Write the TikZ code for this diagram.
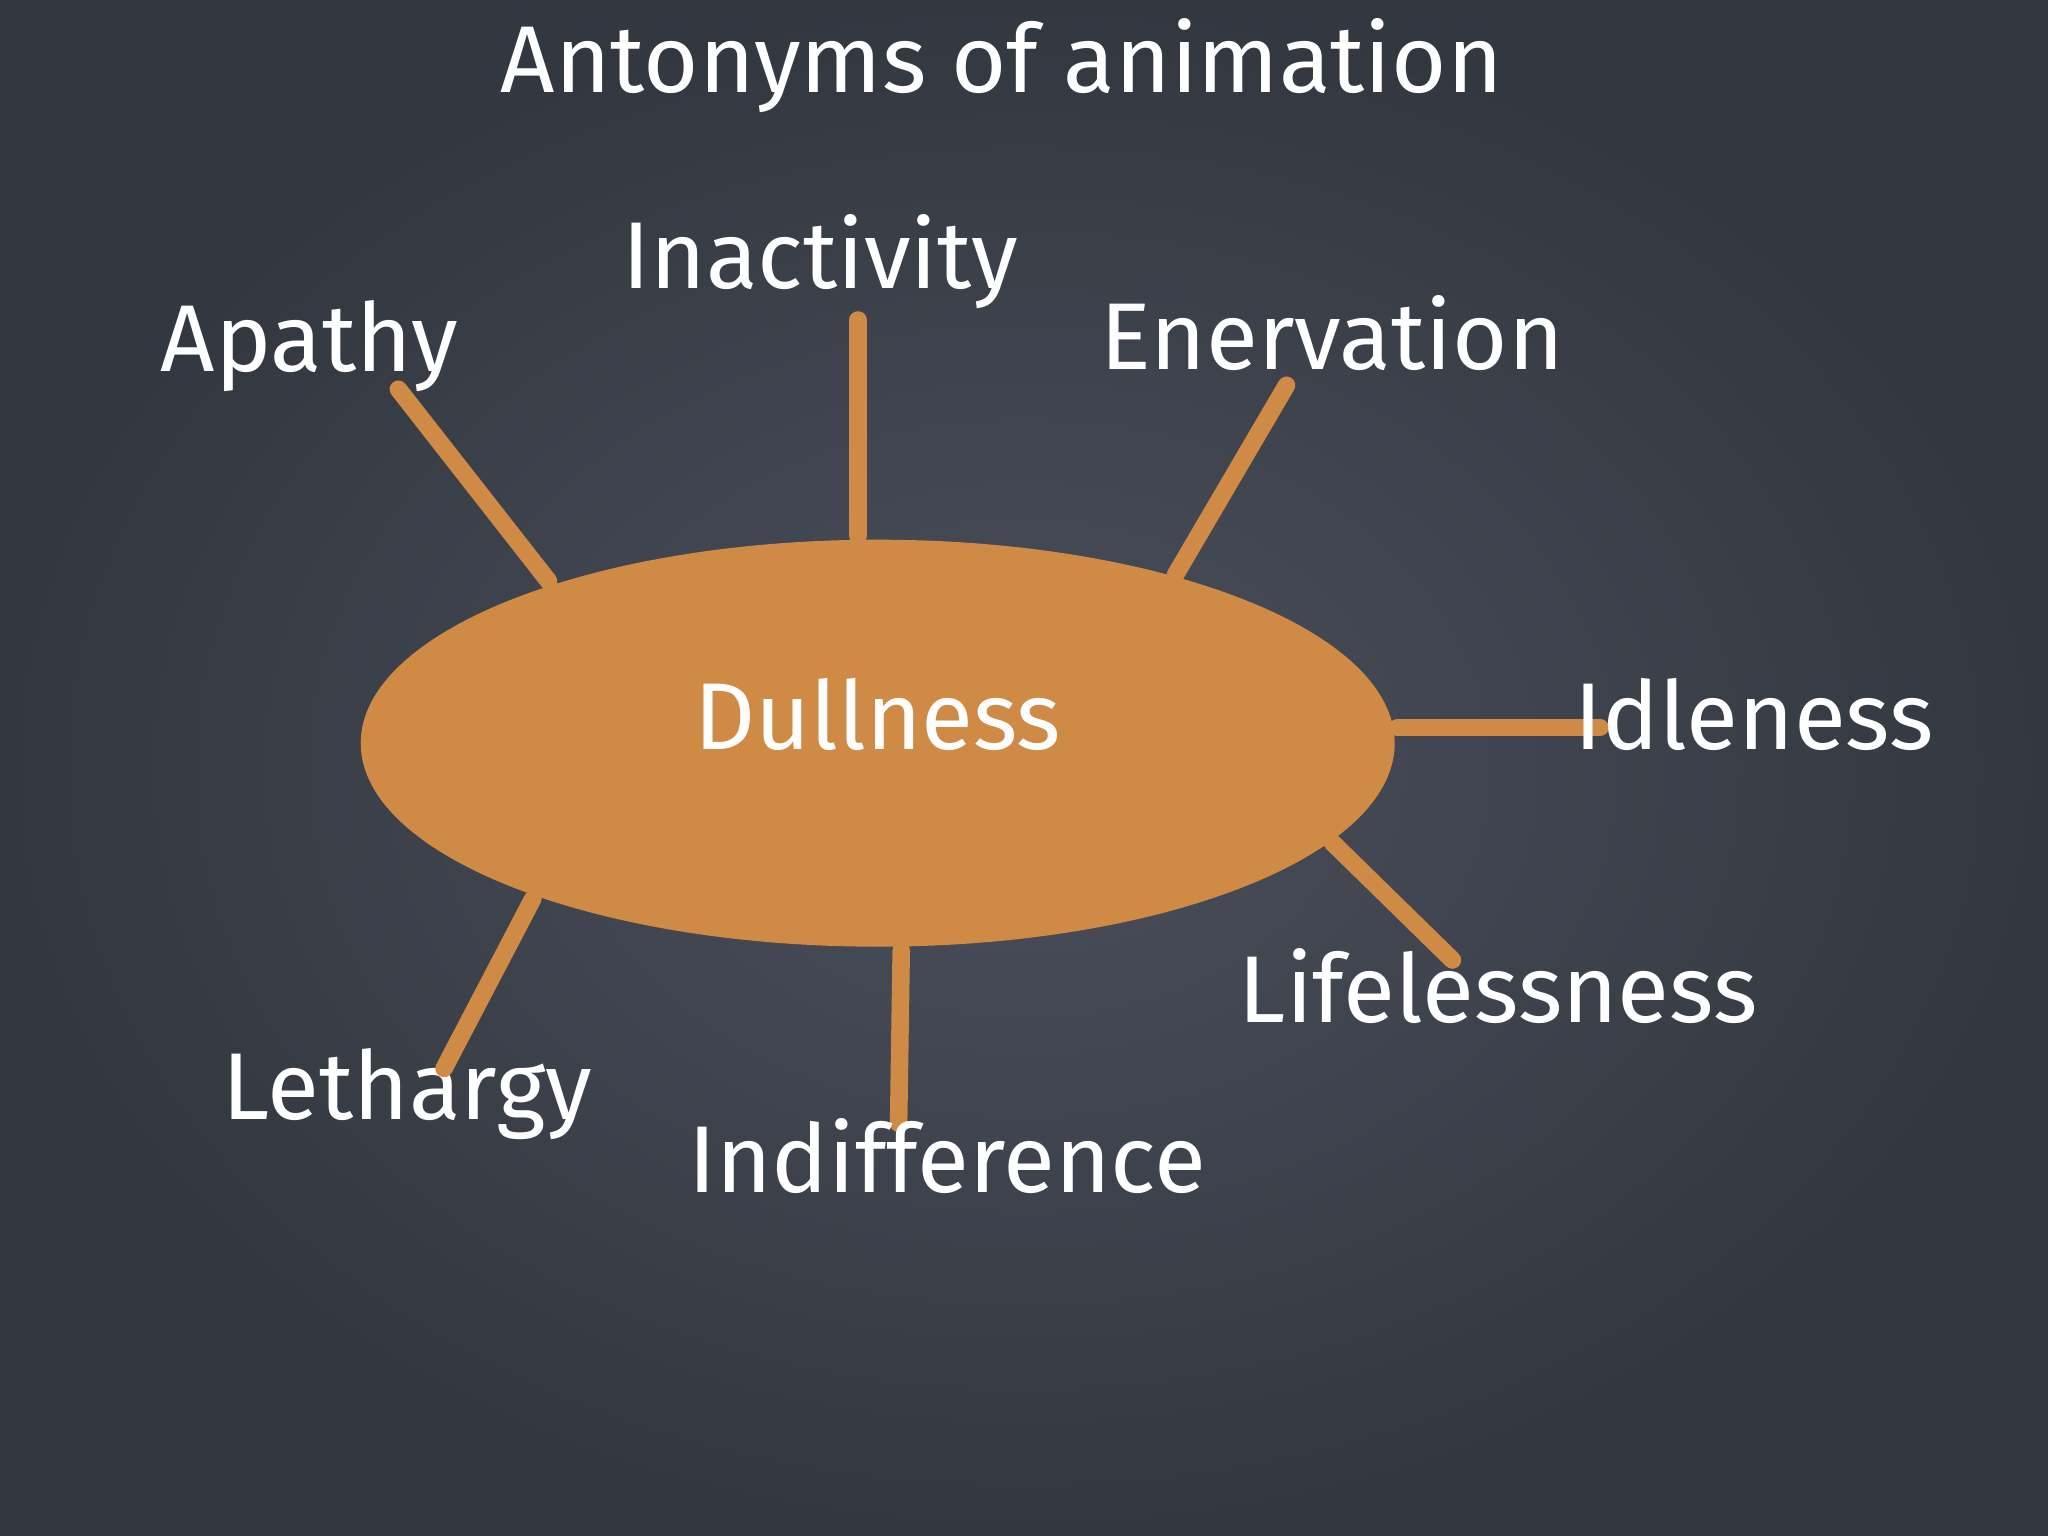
\documentclass[tikz,border=0pt]{standalone}
\usepackage{fontspec}
\setmainfont{Fira Sans}
\usetikzlibrary{shapes.geometric}
\definecolor{board}{HTML}{33373F}
\definecolor{boardlight}{HTML}{4A505C}
\definecolor{chalkor}{HTML}{CF8A45}
\tikzset{
  lbl/.style={text=white,font=\fontsize{27}{30}\selectfont},
  spoke/.style={draw=chalkor,line width=5pt,line cap=round}
}
\begin{document}
\begin{tikzpicture}[x=0.013061cm,y=-0.013061cm]
\useasboundingbox (0,0) rectangle (1568,1176);
\shade[inner color=boardlight,outer color=board] (0,0) rectangle (1568,1176);
\node[ellipse,fill=chalkor,minimum width=10.34cm,minimum height=4.07cm,inner sep=0pt] (core) at (672,569) {};
\node[lbl] (title) at (767,50) {Antonyms of animation};
\node[lbl] (dull) at (672,547) {Dullness};
\node[lbl] (apathy) at (237,265) {Apathy};
\node[lbl] (inact) at (628,200) {Inactivity};
\node[lbl] (enerv) at (1020,255) {Enervation};
\node[lbl] (life) at (1147,755) {Lifelessness};
\node[lbl] (leth) at (312,838) {Lethargy};
\coordinate (a1) at (305,298); \coordinate (a2) at (420,445);
\coordinate (b1) at (657,245); \coordinate (b2) at (657,410);
\coordinate (c1) at (985,295); \coordinate (c2) at (900,440);
\coordinate (d1) at (1225,557); \coordinate (d2) at (1070,557);
\coordinate (e1) at (1112,735); \coordinate (e2) at (1020,645);
\coordinate (f1) at (688,860); \coordinate (f2) at (690,728);
\coordinate (g1) at (340,818); \coordinate (g2) at (408,688);
\draw[spoke] (a1) -- (a2);
\draw[spoke] (b1) -- (b2);
\draw[spoke] (c1) -- (c2);
\draw[spoke] (d2) -- (d1);
\draw[spoke] (e1) -- (e2);
\draw[spoke] (f1) -- (f2);
\draw[spoke] (g1) -- (g2);
\node[lbl] (idle) at (1343,547) {Idleness};
\node[lbl] (indif) at (725,885) {Indifference};
\end{tikzpicture}
\end{document}
